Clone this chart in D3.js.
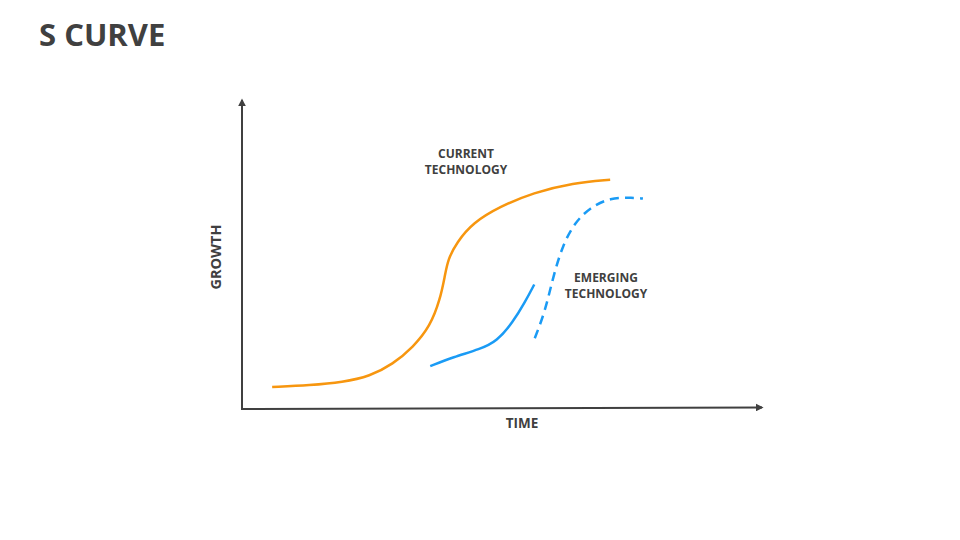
<!DOCTYPE html>
<html>
<head>
<meta charset="utf-8">
<script src="https://cdn.jsdelivr.net/npm/d3@7"></script>
<style>
  body { margin: 0; background: #fff; }
  text { font-family: "Open Sans", sans-serif; font-weight: bold; fill: #404040; }
</style>
</head>
<body>
<svg width="960" height="540"></svg>
<script>
// curve values, time (0-100) vs growth (0-100)
const currentTime = [5.8, 13.1, 19.4, 24.6, 29.0, 32.9, 36.2, 38.1, 39.0, 39.6, 41.3, 44.4, 49.6, 56.0, 63.7, 70.8];
const currentGrowth = [7.1, 7.7, 8.7, 10.6, 14.5, 20.0, 26.8, 35.5, 42.9, 48.4, 53.9, 60.3, 65.5, 70.0, 73.2, 74.2];

const emergingTime = [36.2, 40.6, 45.8, 49.0, 52.1, 54.4, 56.2];
const emergingGrowth = [13.9, 16.8, 19.4, 21.9, 28.1, 34.5, 40.3];

const futureTime = [56.3, 58.3, 59.8, 61.7, 64.0, 66.9, 70.8, 75.2, 77.1];
const futureGrowth = [22.9, 31.6, 42.6, 53.2, 60.3, 65.2, 68.4, 68.4, 68.1];

const labels = {
    title: 'S CURVE',
    x: 'TIME',
    y: 'GROWTH',
    current: ['CURRENT', 'TECHNOLOGY'],
    emerging: ['EMERGING', 'TECHNOLOGY']
};

const svg = d3.select('svg');
const axisColor = '#404040';

const xScale = d3.scaleLinear().domain([0, 100]).range([242, 762]);
const yScale = d3.scaleLinear().domain([0, 100]).range([409, 100]);

const zip = (xs, ys) => xs.map((x, i) => ({ x: x, y: ys[i] }));

// arrow heads
const defs = svg.append('defs');
defs.append('marker')
    .attr('id', 'arrow')
    .attr('viewBox', '0 0 10 10')
    .attr('refX', 8).attr('refY', 5)
    .attr('markerWidth', 4).attr('markerHeight', 4)
    .attr('orient', 'auto')
    .append('path')
    .attr('d', 'M0,0 L10,5 L0,10 z')
    .attr('fill', axisColor);

// axes
svg.append('line')
    .attr('x1', xScale(0)).attr('y1', yScale(0))
    .attr('x2', xScale(0)).attr('y2', yScale(100))
    .attr('stroke', axisColor).attr('stroke-width', 2)
    .attr('marker-end', 'url(#arrow)');
svg.append('line')
    .attr('x1', xScale(0) - 1).attr('y1', yScale(0))
    .attr('x2', xScale(100)).attr('y2', yScale(0.5))
    .attr('stroke', axisColor).attr('stroke-width', 2)
    .attr('marker-end', 'url(#arrow)');

// basis keeps the hand-drawn curves smooth
const line = d3.line()
    .x(d => xScale(d.x))
    .y(d => yScale(d.y))
    .curve(d3.curveBasis);

svg.append('path')
    .datum(zip(currentTime, currentGrowth))
    .attr('d', line)
    .attr('fill', 'none')
    .attr('stroke', '#F7960F')
    .attr('stroke-width', 2.5);

svg.append('path')
    .datum(zip(emergingTime, emergingGrowth))
    .attr('d', line)
    .attr('fill', 'none')
    .attr('stroke', '#1A9BF5')
    .attr('stroke-width', 2.5);

svg.append('path')
    .datum(zip(futureTime, futureGrowth))
    .attr('d', line)
    .attr('fill', 'none')
    .attr('stroke', '#1A9BF5')
    .attr('stroke-width', 2.5)
    .attr('stroke-dasharray', '9,6');

// texts
svg.append('text')
    .attr('x', 39).attr('y', 46)
    .style('font-size', '31px')
    .text(labels.title);

svg.append('text')
    .attr('x', 522).attr('y', 428)
    .attr('text-anchor', 'middle')
    .style('font-size', '13.5px')
    .text(labels.x);

svg.append('text')
    .attr('transform', 'translate(221,257) rotate(-90)')
    .attr('text-anchor', 'middle')
    .style('font-size', '14.5px')
    .text(labels.y);

const block = (lines, cx, y0) => {
    const t = svg.append('text')
        .attr('text-anchor', 'middle')
        .style('font-size', '12px');
    lines.forEach((s, i) => {
        t.append('tspan').attr('x', cx).attr('y', y0 + i * 16).text(s);
    });
};
block(labels.current, 466, 158);
block(labels.emerging, 606, 282);
</script>
</body>
</html>
